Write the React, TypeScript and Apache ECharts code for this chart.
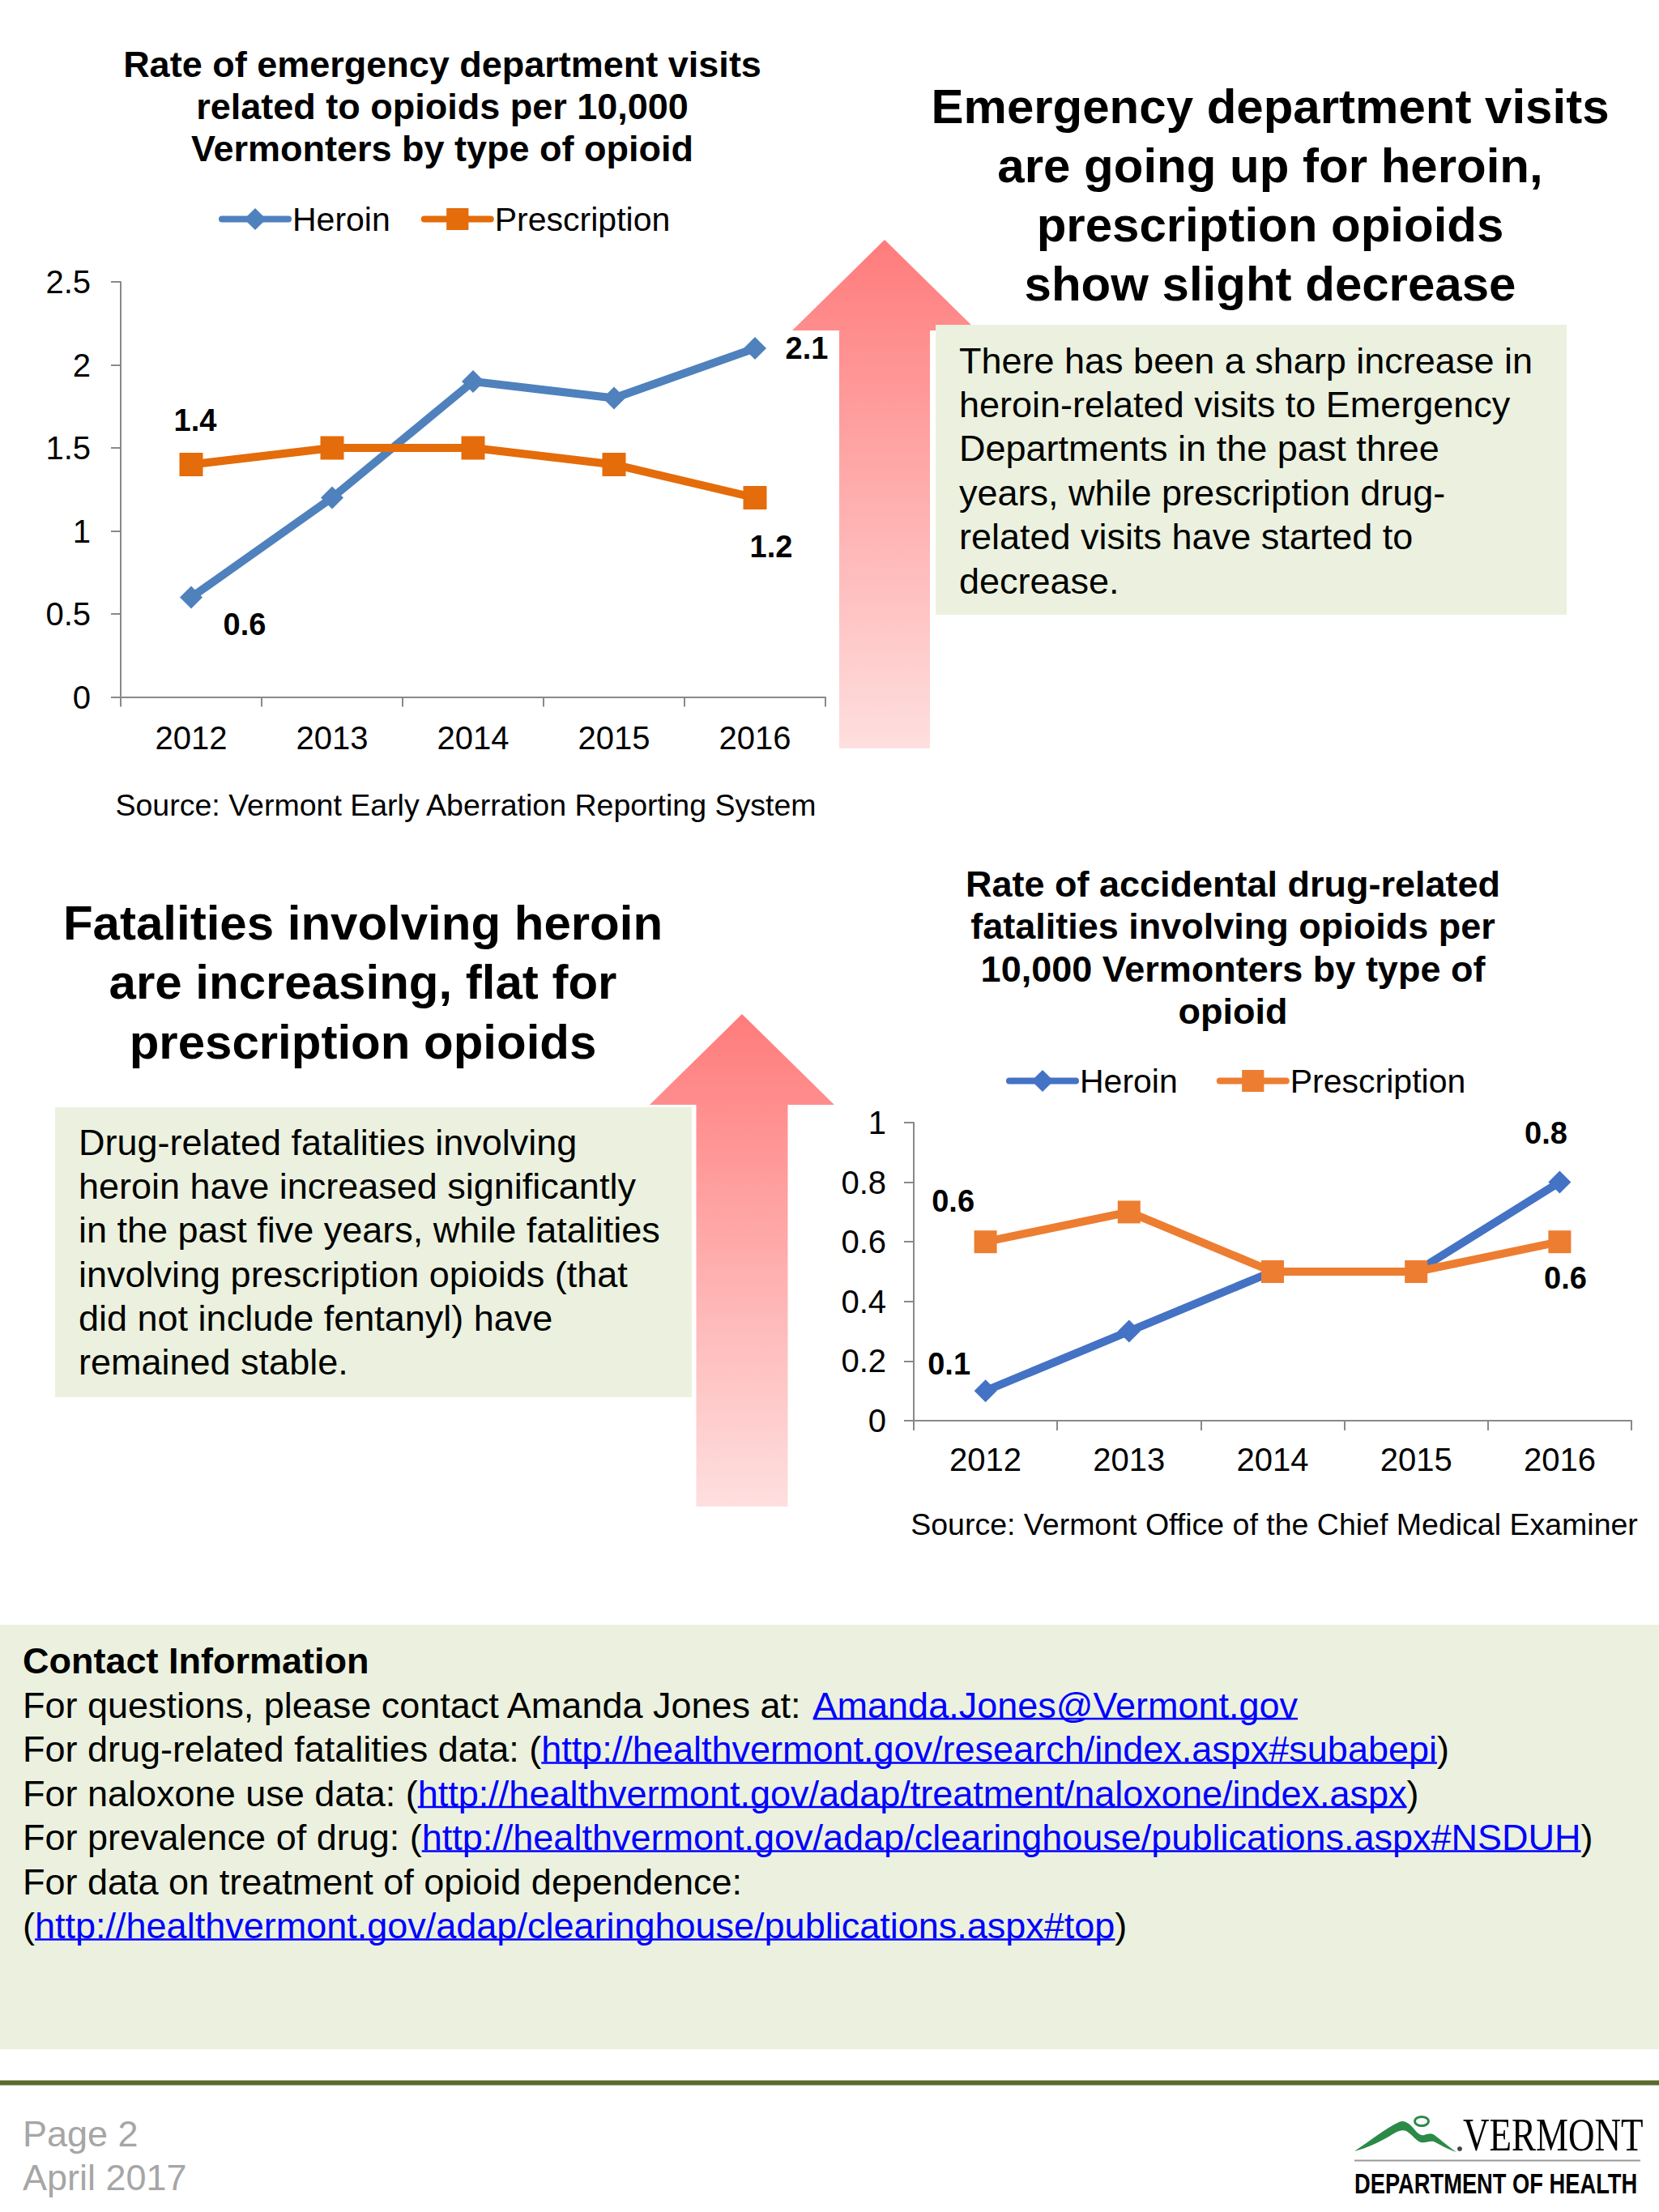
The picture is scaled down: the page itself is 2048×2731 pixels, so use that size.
import React, { useEffect, useRef } from 'react';
import * as echarts from 'echarts';

// ---------- data ----------
const years = ['2012', '2013', '2014', '2015', '2016'];
const edHeroin = [0.6, 1.2, 1.9, 1.8, 2.1];
const edPrescription = [1.4, 1.5, 1.5, 1.4, 1.2];
const fatalHeroin = [0.1, 0.3, 0.5, 0.5, 0.8];
const fatalPrescription = [0.6, 0.7, 0.5, 0.5, 0.6];
const edAxis = { min: 0, max: 2.5, interval: 0.5 };
const fatalAxis = { min: 0, max: 1, interval: 0.2 };

// ---------- texts ----------
const edTitle = ['Rate of emergency department visits', 'related to opioids per 10,000', 'Vermonters by type of opioid'];
const fatalTitle = ['Rate of accidental drug-related', 'fatalities involving opioids per', '10,000 Vermonters by type of', 'opioid'];
const edSource = 'Source: Vermont Early Aberration Reporting System';
const fatalSource = 'Source: Vermont Office of the Chief Medical Examiner';
const headline1 = ['Emergency department visits', 'are going up for heroin,', 'prescription opioids', 'show slight decrease'];
const headline2 = ['Fatalities involving heroin', 'are increasing, flat for', 'prescription opioids'];
const box1Lines = [
  'There has been a sharp increase in',
  'heroin-related visits to Emergency',
  'Departments in the past three',
  'years, while prescription drug-',
  'related visits have started to',
  'decrease.',
];
const box2Lines = [
  'Drug-related fatalities involving',
  'heroin have increased significantly',
  'in the past five years, while fatalities',
  'involving prescription opioids (that',
  'did not include fentanyl) have',
  'remained stable.',
];
const contactLines: { t: string; link?: boolean }[][] = [
  [{ t: 'For questions, please contact Amanda Jones at: ' }, { t: 'Amanda.Jones@Vermont.gov', link: true }],
  [{ t: 'For drug-related fatalities data: (' }, { t: 'http://healthvermont.gov/research/index.aspx#subabepi', link: true }, { t: ')' }],
  [{ t: 'For naloxone use data: (' }, { t: 'http://healthvermont.gov/adap/treatment/naloxone/index.aspx', link: true }, { t: ')' }],
  [{ t: 'For prevalence of drug: (' }, { t: 'http://healthvermont.gov/adap/clearinghouse/publications.aspx#NSDUH', link: true }, { t: ')' }],
  [{ t: 'For data on treatment of opioid dependence:' }],
  [{ t: '(' }, { t: 'http://healthvermont.gov/adap/clearinghouse/publications.aspx#top', link: true }, { t: ')' }],
];

// ---------- label placement (index -> offset of label centre from point) ----------
const edHeroinLabels: Record<number, [number, number]> = { 0: [66, 33], 4: [64, 0] };
const edPrescriptionLabels: Record<number, [number, number]> = { 0: [5, -55], 4: [20, 60] };
const fatalHeroinLabels: Record<number, [number, number]> = { 0: [-45, -33], 4: [-17, -61] };
const fatalPrescriptionLabels: Record<number, [number, number]> = { 0: [-40, -50], 4: [7, 45] };

const FONT = '"Liberation Sans", Arial, Helvetica, sans-serif';

function measure(text: string, font: string): number {
  const c = document.createElement('canvas');
  const ctx = c.getContext('2d');
  if (!ctx) return text.length * 20;
  ctx.font = font;
  return ctx.measureText(text).width;
}

const mkData = (vals: number[], labels: Record<number, [number, number]>) =>
  vals.map((v, i) =>
    labels[i] ? { value: v, label: { show: true, offset: labels[i] } } : { value: v }
  );

const MOUNTAIN_D =
  'M0,46 C18,34 38,18 55,10 C62,7 68,12 74,19 C78,24 82,27 86,26 C92,24 96,23 100,27 C108,33 116,40 126,47 C116,44 106,38 98,34 C92,33 88,36 82,35 C76,33 72,26 64,21 C58,19 52,22 44,27 C30,35 16,42 0,46 Z';

let registered = false;

export default function App() {
  const ref = useRef<HTMLDivElement>(null);

  useEffect(() => {
    if (!ref.current) return;
    if (!registered) {
      echarts.graphic.registerShape('vtMountain', (echarts.graphic as any).extendPath(MOUNTAIN_D, {}));
      registered = true;
    }
    const chart = echarts.init(ref.current, undefined, { renderer: 'svg' });

    const axisColor = '#898989';
    const catAxis = (gridIndex: number, margin: number) => ({
      gridIndex,
      type: 'category',
      data: years,
      boundaryGap: true,
      axisLine: { show: true, lineStyle: { color: axisColor, width: 2 } },
      axisTick: { show: true, length: 12, lineStyle: { color: axisColor, width: 2 } },
      axisLabel: { interval: 0, color: '#000', fontSize: 40, fontFamily: FONT, margin },
      splitLine: { show: false },
    });
    const valAxis = (gridIndex: number, cfg: { min: number; max: number; interval: number }, margin: number) => ({
      gridIndex,
      type: 'value',
      min: cfg.min,
      max: cfg.max,
      interval: cfg.interval,
      axisLine: { show: true, lineStyle: { color: axisColor, width: 2 } },
      axisTick: { show: true, length: 12, lineStyle: { color: axisColor, width: 2 } },
      axisLabel: { color: '#000', fontSize: 40, fontFamily: FONT, margin },
      splitLine: { show: false },
    });

    const seriesLabel = {
      show: false,
      position: 'inside',
      fontSize: 38,
      fontWeight: 'bold',
      color: '#000',
      fontFamily: FONT,
    };
    const lineSeries = (
      name: string,
      idx: number,
      data: any[],
      color: string,
      symbol: string,
      size: number
    ) => ({
      name,
      type: 'line',
      xAxisIndex: idx,
      yAxisIndex: idx,
      data,
      symbol,
      symbolSize: size,
      showAllSymbol: true,
      lineStyle: { color, width: 10, cap: 'round', join: 'round' },
      itemStyle: { color },
      label: seriesLabel,
      emphasis: { disabled: true },
    });

    const graphics: any[] = [];
    const text = (
      t: string,
      x: number,
      y: number,
      size: number,
      opts: { bold?: boolean; align?: string; color?: string; family?: string; scaleX?: number } = {}
    ) => {
      graphics.push({
        type: 'text',
        x,
        y,
        scaleX: opts.scaleX ?? 1,
        z: 10,
        style: {
          text: t,
          fontSize: size,
          fontWeight: opts.bold ? 'bold' : 'normal',
          fontFamily: opts.family ?? FONT,
          fill: opts.color ?? '#000',
          align: opts.align ?? 'left',
          verticalAlign: 'middle',
        },
      });
    };

    const arrow = (tipX: number, tipY: number, headY: number, headHalf: number, shaftHalf: number, bottom: number) => {
      graphics.push({
        type: 'polygon',
        z: 1,
        shape: {
          points: [
            [tipX, tipY],
            [tipX + headHalf, headY],
            [tipX + shaftHalf, headY],
            [tipX + shaftHalf, bottom],
            [tipX - shaftHalf, bottom],
            [tipX - shaftHalf, headY],
            [tipX - headHalf, headY],
          ],
        },
        style: {
          fill: new echarts.graphic.LinearGradient(0, 0, 0, 1, [
            { offset: 0, color: '#FF7B7B' },
            { offset: 1, color: '#FEDFDF' },
          ]),
        },
      });
    };

    // arrows
    arrow(1092, 296, 408, 114, 56, 924);
    arrow(916, 1252, 1364, 114, 56.5, 1860);

    // green boxes
    graphics.push({ type: 'rect', z: 2, shape: { x: 1155, y: 401, width: 779, height: 358 }, style: { fill: '#EBF1DE' } });
    graphics.push({ type: 'rect', z: 2, shape: { x: 68, y: 1367, width: 786, height: 358 }, style: { fill: '#EBF1DE' } });
    graphics.push({ type: 'rect', z: 2, shape: { x: 0, y: 2006, width: 2048, height: 524 }, style: { fill: '#EBF1DE' } });

    // chart titles
    edTitle.forEach((l, i) => text(l, 546, 79 + i * 52, 45, { bold: true, align: 'center' }));
    fatalTitle.forEach((l, i) => text(l, 1522, 1091 + i * 52.6, 45, { bold: true, align: 'center' }));
    text(edSource, 575, 994, 37.5, { align: 'center' });
    text(fatalSource, 1573, 1882, 37.5, { align: 'center' });

    // headlines
    headline1.forEach((l, i) => text(l, 1568, 131 + i * 73, 60, { bold: true, align: 'center' }));
    headline2.forEach((l, i) => text(l, 448, 1139 + i * 73.5, 60, { bold: true, align: 'center' }));

    // box texts
    box1Lines.forEach((l, i) => text(l, 1184, 445 + i * 54.4, 45));
    box2Lines.forEach((l, i) => text(l, 97, 1410.5 + i * 54.2, 45));

    // contact information
    text('Contact Information', 28, 2050, 45, { bold: true });
    const regFont = `45px ${FONT}`;
    contactLines.forEach((segs, i) => {
      const y = 2105 + i * 54.5;
      let x = 28;
      segs.forEach((s) => {
        const w = measure(s.t, regFont);
        text(s.t, x, y, 45, { color: s.link ? '#0000FF' : '#000' });
        if (s.link) {
          graphics.push({
            type: 'line',
            z: 10,
            shape: { x1: x, y1: y + 17, x2: x + w, y2: y + 17 },
            style: { stroke: '#0000FF', lineWidth: 2.5 },
          });
        }
        x += w;
      });
    });

    // footer
    graphics.push({ type: 'rect', z: 3, shape: { x: 0, y: 2568.5, width: 2048, height: 6 }, style: { fill: '#596B2A' } });
    text('Page 2', 28, 2634, 45, { color: '#A6A6A6' });
    text('April 2017', 28, 2688, 45, { color: '#A6A6A6' });

    // logo
    graphics.push({ type: 'vtMountain', x: 1672, y: 2610, z: 10, style: { fill: '#2B8A47' } });
    graphics.push({
      type: 'ellipse',
      z: 10,
      shape: { cx: 1755, cy: 2619, rx: 8.5, ry: 5.5 },
      style: { fill: 'none', stroke: '#2B8A47', lineWidth: 3 },
    });
    graphics.push({ type: 'circle', z: 10, shape: { cx: 1802, cy: 2653, r: 3 }, style: { fill: '#444' } });
    text('VERMONT', 1806, 2636, 57, { family: '"Liberation Serif", "Times New Roman", serif', scaleX: 0.79 });
    graphics.push({
      type: 'line',
      z: 10,
      shape: { x1: 1672, y1: 2667.5, x2: 2025, y2: 2667.5 },
      style: { stroke: '#999999', lineWidth: 2 },
    });
    text('DEPARTMENT OF HEALTH', 1672, 2696, 35, { bold: true, scaleX: 0.78 });

    const legendCommon = {
      padding: 0,
      itemWidth: 82,
      itemHeight: 34,
      selectedMode: false,
      lineStyle: { width: 8, cap: 'round' },
      textStyle: { fontSize: 41, color: '#000', fontFamily: FONT },
      formatter: (n: string) => n.trim(),
    };

    const option: any = {
      animation: false,
      backgroundColor: '#ffffff',
      textStyle: { fontFamily: FONT },
      grid: [
        { left: 149, top: 348, width: 870, height: 512.5, containLabel: false },
        { left: 1128, top: 1386, width: 886, height: 368, containLabel: false },
      ],
      xAxis: [catAxis(0, 30), catAxis(1, 28)],
      yAxis: [valAxis(0, edAxis, 37), valAxis(1, fatalAxis, 34)],
      legend: [
        { ...legendCommon, left: 270, top: 250, itemGap: 38, data: ['Heroin', 'Prescription'] },
        { ...legendCommon, left: 1242, top: 1314, itemGap: 48, data: ['Heroin ', 'Prescription '] },
      ],
      series: [
        lineSeries('Heroin', 0, mkData(edHeroin, edHeroinLabels), '#4F81BD', 'diamond', 28),
        lineSeries('Prescription', 0, mkData(edPrescription, edPrescriptionLabels), '#E46C0A', 'rect', 29),
        lineSeries('Heroin ', 1, mkData(fatalHeroin, fatalHeroinLabels), '#4472C4', 'diamond', 28),
        lineSeries('Prescription ', 1, mkData(fatalPrescription, fatalPrescriptionLabels), '#ED7D31', 'rect', 28),
      ],
      graphic: { elements: graphics },
    };
    chart.setOption(option);
    return () => chart.dispose();
  }, []);

  return (
    <div
      ref={ref}
      style={{ position: 'absolute', left: 0, top: 0, width: 2048, height: 2731, background: '#fff' }}
    />
  );
}
